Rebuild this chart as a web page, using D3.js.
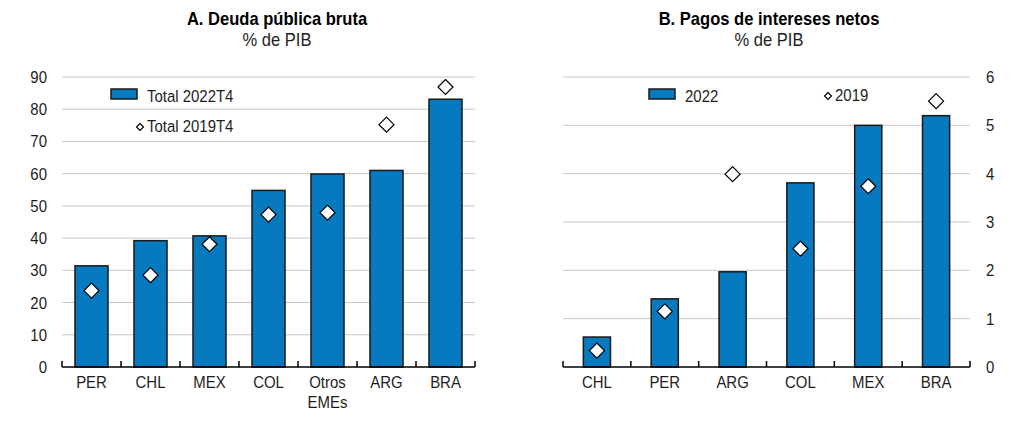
<!DOCTYPE html>
<html>
<head>
<meta charset="utf-8">
<script src="https://cdn.jsdelivr.net/npm/d3@7"></script>
<style>
body { margin: 0; background: #fff; }
svg { font-family: "Liberation Sans", Arial, sans-serif; }
</style>
</head>
<body>
<div id="chart"></div>
<script>
// panel A: deuda publica bruta
const catsA = ['PER', 'CHL', 'MEX', 'COL', 'Otros\nEMEs', 'ARG', 'BRA']
const total2022 = [31.4, 39.2, 40.7, 54.8, 59.9, 61.0, 83.1]
const total2019 = [23.7, 28.5, 38.1, 47.3, 47.9, 75.2, 86.9]
const ticksA = [0, 10, 20, 30, 40, 50, 60, 70, 80, 90]

// panel B: pagos de intereses netos
const catsB = ['CHL', 'PER', 'ARG', 'COL', 'MEX', 'BRA']
const int2022 = [0.62, 1.41, 1.97, 3.81, 5.0, 5.2]
const int2019 = [0.34, 1.15, 3.99, 2.45, 3.74, 5.5]
const ticksB = [0, 1, 2, 3, 4, 5, 6]

const blue = '#0679bf'
const width = 1023, height = 433
const sx = 0.88 // la fuente original es mas estrecha

let svg = d3.select('#chart')
.append('svg')
.attr('width', width)
.attr('height', height)

// texto comprimido horizontalmente
function txt(g, x, y, s, anchor, size, bold, sc) {
	const t = g.append('g')
	.attr('transform', `translate(${x},${y}) scale(${sc || sx},1)`)
	.append('text')
	.attr('text-anchor', anchor || 'start')
	.style('font-size', (size || 17) + 'px')
	.attr('fill', bold ? '#000' : '#1e1e1e')
	s.split('\n').forEach((line, j) => {
		t.append('tspan').attr('x', 0).attr('y', j * 20).text(line)
	})
	if (bold) t.style('font-weight', 'bold')
	return t
}

function diamond(g, x, y, r) {
	g.append('path')
	.attr('d', `M${x},${y-r}L${x+r},${y}L${x},${y+r}L${x-r},${y}Z`)
	.attr('fill', '#fff')
	.attr('stroke', '#000')
	.attr('stroke-width', 1.2)
}

function panel(opt) {
	const g = svg.append('g')

	let xScale = d3.scaleBand()
	.domain(opt.cats)
	.range([opt.x0, opt.x1])
	.paddingInner(opt.pad)
	.paddingOuter(opt.pad / 2)

	let yScale = d3.scaleLinear()
	.domain([0, d3.max(opt.ticks)])
	.range([367, 77])

	// titulo
	txt(g, opt.tx, 25, opt.title, 'middle', 18, true, 0.92)
	txt(g, opt.tx, 46, '% de PIB', 'middle', 18, false, 0.92)

	// grid
	g.selectAll('.grid')
	.data(opt.ticks.filter(d => d > 0))
	.join('line')
	.attr('x1', opt.x0).attr('x2', opt.x1)
	.attr('y1', d => yScale(d)).attr('y2', d => yScale(d))
	.attr('stroke', '#c8c8c8')
	.attr('stroke-width', 1)

	// etiquetas eje y
	opt.ticks.forEach(d => {
		txt(g, opt.right ? opt.x1 + 16 : opt.x0 - 15, yScale(d) + 6, String(d), opt.right ? 'start' : 'end')
	})

	// barras
	g.selectAll('.bar')
	.data(opt.cats)
	.join('rect')
	.attr('x', d => xScale(d))
	.attr('width', xScale.bandwidth())
	.attr('y', (d, i) => yScale(opt.bars[i]))
	.attr('height', (d, i) => yScale(0) - yScale(opt.bars[i]))
	.attr('fill', blue)
	.attr('stroke', '#1a1a1a')
	.attr('stroke-width', 1.5)

	// rombos
	opt.cats.forEach((c, i) => {
		diamond(g, xScale(c) + xScale.bandwidth() / 2, yScale(opt.dots[i]), 7.5)
	})

	// eje x
	const step = (opt.x1 - opt.x0) / opt.cats.length
	g.append('line')
	.attr('x1', opt.x0).attr('x2', opt.x1)
	.attr('y1', yScale(0)).attr('y2', yScale(0))
	.attr('stroke', '#000').attr('stroke-width', 1.5)
	g.selectAll('.tick')
	.data(d3.range(opt.cats.length + 1))
	.join('line')
	.attr('x1', d => opt.x0 + d * step).attr('x2', d => opt.x0 + d * step)
	.attr('y1', yScale(0)).attr('y2', yScale(0) - 6)
	.attr('stroke', '#000').attr('stroke-width', 1.5)

	opt.cats.forEach(d => {
		txt(g, xScale(d) + xScale.bandwidth() / 2, 388, d, 'middle')
	})

	// leyenda
	const L = opt.legend
	g.append('rect')
	.attr('x', L.rx).attr('y', 89).attr('width', 26).attr('height', 10)
	.attr('fill', blue).attr('stroke', '#1a1a1a').attr('stroke-width', 1.5)
	txt(g, L.rx + 36, 102, L.barLabel)
	diamond(g, L.dx, L.dy, 3.5)
	txt(g, L.dx + 7, L.dy + 5, L.dotLabel)
}

panel({
	cats: catsA, bars: total2022, dots: total2019, ticks: ticksA,
	x0: 62, x1: 475, pad: 0.44, tx: 277, right: false,
	title: 'A. Deuda pública bruta',
	legend: { rx: 111, barLabel: 'Total 2022T4', dx: 140, dy: 127, dotLabel: 'Total 2019T4' }
})

panel({
	cats: catsB, bars: int2022, dots: int2019, ticks: ticksB,
	x0: 563, x1: 970, pad: 0.6, tx: 769, right: true,
	title: 'B. Pagos de intereses netos',
	legend: { rx: 649, barLabel: '2022', dx: 828, dy: 96, dotLabel: '2019' }
})
</script>
</body>
</html>
